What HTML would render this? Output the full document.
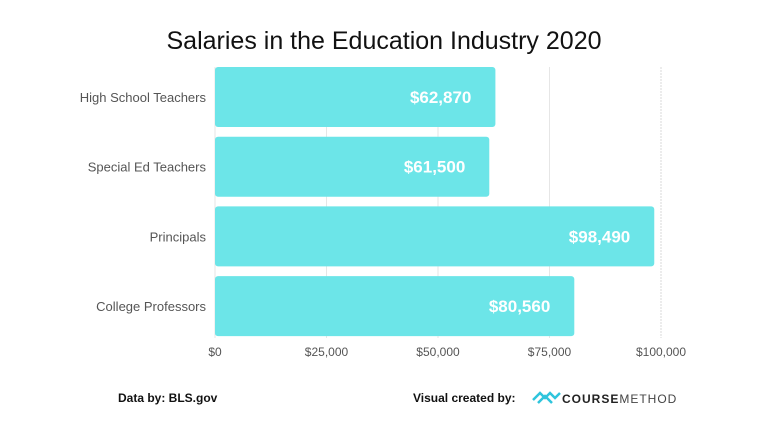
<!DOCTYPE html>
<html><head><meta charset="utf-8"><style>
body{margin:0;background:#fff;width:768px;height:432px;overflow:hidden;font-family:"Liberation Sans",sans-serif}
</style></head><body>
<svg id="chart" width="768" height="432" xmlns="http://www.w3.org/2000/svg">
<text x="384" y="49" text-anchor="middle" font-size="25" fill="#111">Salaries in the Education Industry 2020</text>
<g id="grid"></g><g id="bars"></g><g id="labels"></g>
<text x="118" y="402" font-size="12" font-weight="bold" fill="#111">Data by: BLS.gov</text>
<text x="413" y="402" font-size="12" font-weight="bold" fill="#111">Visual created by:</text>
<g>
<path d="M533 400 l7 -7 l5 5 l5 -5 l5 5 l5 -5 M538 403 l7 -7 l7 7" fill="none" stroke="#2fc4dc" stroke-width="2.5"/>
<text x="562" y="403" font-size="12" fill="#222" letter-spacing="1"><tspan font-weight="bold">COURSE</tspan><tspan fill="#444">METHOD</tspan></text>
</g>
</svg>
<script>
const categories=["High School Teachers","Special Ed Teachers","Principals","College Professors"];
const values=[62870,61500,98490,80560];
const valueLabels=["$62,870","$61,500","$98,490","$80,560"];
const ticks=[0,25000,50000,75000,100000];
const tickLabels=["$0","$25,000","$50,000","$75,000","$100,000"];
const ns="http://www.w3.org/2000/svg";
const x0=215,x1=661,plotTop=67,step=69.7,bh=60;
const xs=v=>x0+(v/100000)*(x1-x0);
const yb=i=>plotTop+i*step;
const grid=document.getElementById('grid'),bars=document.getElementById('bars'),labels=document.getElementById('labels');
function mk(t,a){const e=document.createElementNS(ns,t);for(const k in a)e.setAttribute(k,a[k]);return e;}
ticks.forEach((t,i)=>{
 const l=mk('line',{x1:xs(t),x2:xs(t),y1:67,y2:338,stroke:i==4?'#d8d8d8':'#e6e6e6','stroke-width':1});
 if(i==4)l.setAttribute('stroke-dasharray','2,1');
 
 
 grid.appendChild(l);
 const tx=mk('text',{x:xs(t),y:356,'text-anchor':'middle','font-size':12,fill:'#555'});
 tx.textContent=tickLabels[i];
 
 
 labels.appendChild(tx);
});
categories.forEach((c,i)=>{
 const r=mk('rect',{x:x0,y:yb(i),width:xs(values[i])-x0,height:bh,rx:3,fill:'#6ce5e8'});
 
 
 bars.appendChild(r);
 const v=mk('text',{x:xs(values[i])-24,y:yb(i)+bh/2+6,'text-anchor':'end','font-size':17,'font-weight':'bold',fill:'#fff'});
 v.textContent=valueLabels[i];
 
 
 bars.appendChild(v);
 const cl=mk('text',{x:206,y:yb(i)+bh/2+5,'text-anchor':'end','font-size':13,fill:'#555'});
 cl.textContent=c;
 
 
 labels.appendChild(cl);
});
</script>
</body></html>
